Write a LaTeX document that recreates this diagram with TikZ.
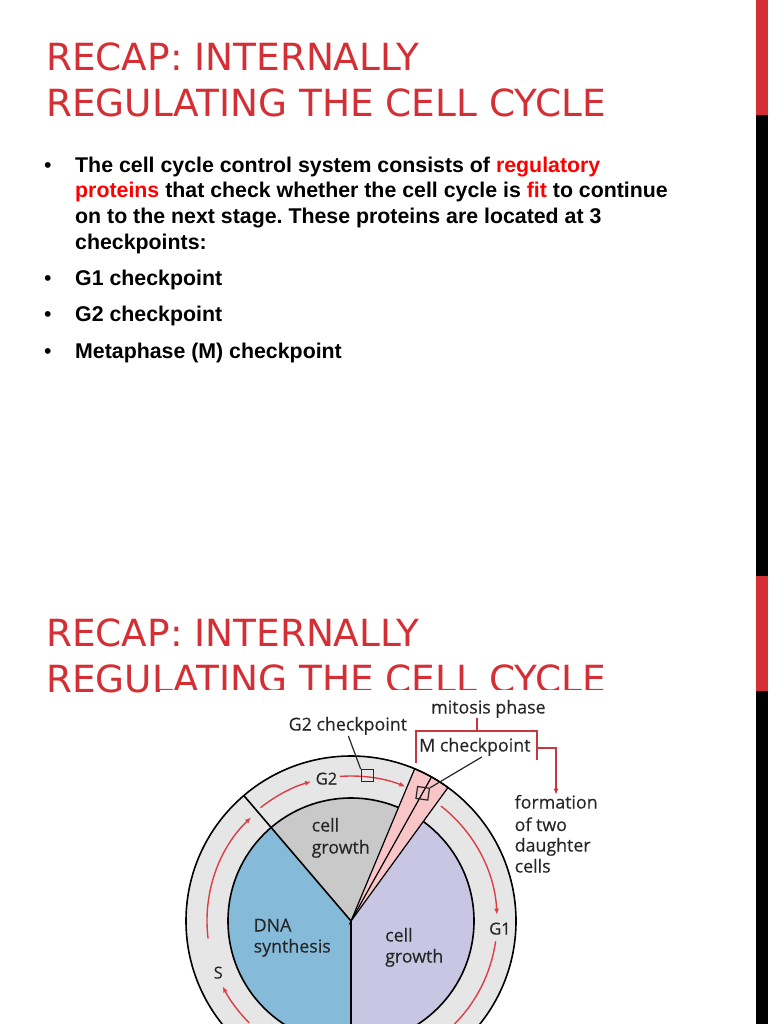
\documentclass[tikz,border=0pt]{standalone}
\usepackage{fontspec}
\setmainfont{Liberation Sans}
\newfontfamily\titlefont{DejaVu Sans}
\newfontfamily\figfont[FakeBold=0.25]{Open Sans}
\definecolor{slidered}{HTML}{D32F35}
\definecolor{ringgrey}{HTML}{E6E6E6}
\definecolor{sectorgrey}{HTML}{C9C9C9}
\definecolor{dnablue}{HTML}{85BBD9}
\definecolor{growthlilac}{HTML}{C9C6E4}
\definecolor{wedgepink}{HTML}{F8C6C9}
\definecolor{arcred}{HTML}{DB3F45}
\usetikzlibrary{arrows.meta}
\tikzset{
	slidetitle/.style={anchor=base west,inner sep=0pt,text=slidered,font=\titlefont\fontsize{37.4}{37.4}\selectfont},
	bullettext/.style={anchor=base west,inner sep=0pt,font=\frenchspacing\fontsize{21.33}{21.33}\selectfont\bfseries},
	bulletdot/.style={anchor=base west,inner sep=0pt,font=\fontsize{21.33}{21.33}\selectfont},
	figlabel/.style={anchor=base west,inner sep=0pt,text=black!85,font=\figfont\fontsize{17.8}{17.8}\selectfont},
	smalllabel/.style={figlabel,font=\figfont\fontsize{16.5}{16.5}\selectfont},
	cyclearc/.style={arcred,line width=1.4pt,>={Latex[length=6pt,width=5pt]}},
	leader/.style={black!85,line width=1.2pt},
	bracket/.style={arcred!90!black,line width=1.7pt},
	checkbox/.style={draw=black!85,line width=1.2pt,minimum size=12pt,inner sep=0pt},
	ringline/.style={black,line width=1.6pt}
}
\begin{document}
\begin{tikzpicture}[x=1pt,y=-1pt]
	\clip (0,0) rectangle (768,1024);
	\fill[white] (0,0) rectangle (768,1024);
	% side bars
	\fill[slidered] (756,0) rectangle (768,115);
	\fill[black] (756,115) rectangle (768,576);
	\fill[slidered] (756,576) rectangle (768,691);
	\fill[black] (756,691) rectangle (768,1024);
	% first slide
	\node[slidetitle] (title a) at (46,70.7) {RECAP: INTERNALLY};
	\node[slidetitle] (title b) at (46,116.7) {REGULATING THE CELL CYCLE};
	\node[bulletdot] (dot a) at (44,172.7) {•};
	\node[bullettext] (line a) at (75,172.7) {The cell cycle control system consists of \textcolor{red}{regulatory}};
	\node[bullettext] (line b) at (75,198) {\textcolor{red}{proteins} that check whether the cell cycle is \textcolor{red}{fit} to continue};
	\node[bullettext] (line c) at (75,224) {on to the next stage. These proteins are located at 3};
	\node[bullettext] (line d) at (75,249.5) {checkpoints:};
	\node[bulletdot] (dot b) at (44,285.5) {•};
	\node[bullettext] (line e) at (75,285.5) {G1 checkpoint};
	\node[bulletdot] (dot c) at (44,321.5) {•};
	\node[bullettext] (line f) at (75,321.5) {G2 checkpoint};
	\node[bulletdot] (dot d) at (44,358.5) {•};
	\node[bullettext] (line g) at (75,358.5) {Metaphase (M) checkpoint};
	% second slide
	\node[slidetitle] (title c) at (46,646.7) {RECAP: INTERNALLY};
	\node[slidetitle] (title d) at (46,692.7) {REGULATING THE CELL CYCLE};
	\fill[white] (160,690) rectangle (620,1024);
	% cycle disc
	\coordinate (centre) at (351,921);
	\fill[ringgrey] (centre) circle (165);
	\fill[sectorgrey] (centre)--++(-130.5:123) arc[start angle=-130.5,end angle=-67,radius=123]--cycle;
	\fill[dnablue] (centre)--++(-130.5:123) arc[start angle=-130.5,end angle=-270,radius=123]--cycle;
	\fill[growthlilac] (centre)--++(-54:123) arc[start angle=-54,end angle=90,radius=123]--cycle;
	\draw[ringline] (centre) circle (123);
	\filldraw[wedgepink,draw=black,line width=1.2pt] (centre)--++(-67.3:165) arc[start angle=-67.3,end angle=-54,radius=165]--cycle;
	\draw[black,line width=1.2pt] (centre)--++(-60.8:165);
	\draw[ringline] (centre)--++(-130.5:165);
	\draw[ringline] (centre)--++(90:103);
	\draw[ringline] (centre) circle (165);
	% arcs of the cycle
	\draw[cyclearc,->] (centre)++(-187:144) arc[start angle=-187,end angle=-134,radius=144];
	\draw[cyclearc,->] (centre)++(-128.6:145) arc[start angle=-128.6,end angle=-106,radius=145];
	\draw[cyclearc,->] (centre)++(-94.4:145) arc[start angle=-94.4,end angle=-68,radius=145];
	\draw[cyclearc,->] (centre)++(-52:146) arc[start angle=-52,end angle=-2.5,radius=146];
	\draw[cyclearc] (centre)++(8:146) arc[start angle=8,end angle=46,radius=146];
	\draw[cyclearc,->] (centre)++(-225:144) arc[start angle=-225,end angle=-207,radius=144];
	% checkpoints
	\node[checkbox] (g2 box) at (367.3,775.7) {};
	\node[checkbox,rotate=-8] (m box) at (422.7,793.3) {};
	% labels
	\node[figlabel] (g2 check) at (288.5,730.5) {G2 checkpoint};
	\node[figlabel] (m check) at (419,751.5) {M checkpoint};
	\node[figlabel] (mitosis) at (431,713.5) {mitosis phase};
	\node[figlabel] (form a) at (514.5,808.5) {formation};
	\node[figlabel] (form b) at (514.5,831) {of two};
	\node[figlabel] (form c) at (514.5,851.5) {daughter};
	\node[figlabel] (form d) at (514.5,872.5) {cells};
	\node[figlabel] (growth a) at (311.5,831.5) {cell};
	\node[figlabel] (growth b) at (311.5,853.5) {growth};
	\node[figlabel] (dna a) at (253.5,931.5) {DNA};
	\node[figlabel] (dna b) at (253.5,952.5) {synthesis};
	\node[figlabel] (growth c) at (385,941.5) {cell};
	\node[figlabel] (growth d) at (385,962.5) {growth};
	\node[smalllabel] (g1) at (489,934.5) {G1};
	\node[smalllabel] (g2) at (315.5,784.5) {G2};
	\node[smalllabel] (s) at (213.5,978.5) {S};
	% leaders
	\draw[leader] (g2 check.south)++(0.5,1)--(g2 box.north west);
	\draw[leader] (m check.south)++(7,1)--(m box.north east);
	% bracket
	\coordinate (bracket mid) at (476.7,730.7);
	\draw[bracket] (mitosis.south-|bracket mid)--(bracket mid);
	\draw[bracket] (416,763)--(416,730.7)--(536.7,730.7)--(536.7,760);
	\draw[bracket,-{Latex[length=6pt,width=5pt]}] (536.7,748)--(556,748)--(form a.north-|556,0);
\end{tikzpicture}
\end{document}
